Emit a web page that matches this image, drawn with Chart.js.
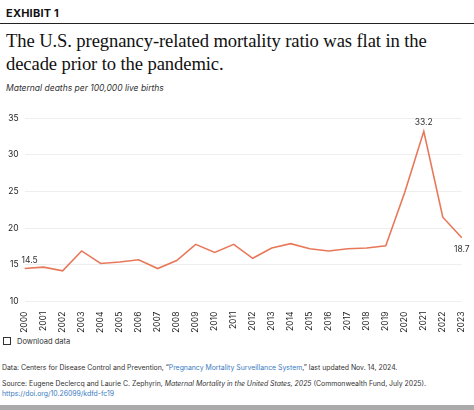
<!DOCTYPE html>
<html><head><meta charset="utf-8">
<script src="https://cdn.jsdelivr.net/npm/chart.js@4"></script>
<style>
body{margin:0;width:474px;height:410px;overflow:hidden;background:#fff;font-family:Inter,"Noto Sans",sans-serif;color:#111;position:relative}
.ex{position:absolute;left:6px;top:6px;font-size:11px;font-weight:700;letter-spacing:.2px}
.rule{position:absolute;left:0;width:474px;height:1px;background:#222}
.title{position:absolute;left:6px;top:29px;width:468px;font-family:"Liberation Serif","DejaVu Serif",serif;font-size:18.6px;line-height:23px;color:#111;letter-spacing:-0.1px}
.sub{position:absolute;left:6px;top:83px;font-size:8.5px;font-style:italic;color:#333}
.dl{position:absolute;left:3px;top:337px;font-size:7.5px;color:#333}
.dl span{display:inline-block;width:6px;height:6px;border:1px solid #333;margin-right:6px;vertical-align:-1px}
.fn{position:absolute;left:2px;font-size:6.9px;color:#333;line-height:10px}
.fn a{color:#3b7bbf;text-decoration:none}
.bar{position:absolute;left:0;top:405px;width:474px;height:5px;background:#aaa}
#c{position:absolute;left:0;top:107px}
</style></head><body>
<div class="ex">EXHIBIT 1</div>
<div class="rule" style="top:23px"></div>
<div class="title">The U.S. pregnancy-related mortality ratio was flat in the decade prior to the pandemic.</div>
<div class="sub">Maternal deaths per 100,000 live births</div>
<div class="dl"><span></span>Download data</div>
<div class="fn" style="top:363px">Data: Centers for Disease Control and Prevention, “<a>Pregnancy Mortality Surveillance System</a>,” last updated Nov. 14, 2024.</div>
<div class="fn" style="top:379px">Source: Eugene Declercq and Laurie C. Zephyrin, <i>Maternal Mortality in the United States, 2025</i> (Commonwealth Fund, July 2025).<br><a>https://doi.org/10.26099/kdfd-fc19</a></div>
<div class="bar"></div>
<canvas id="c" width="474" height="228"></canvas>
<script>
const years=["2000","2001","2002","2003","2004","2005","2006","2007","2008","2009","2010","2011","2012","2013","2014","2015","2016","2017","2018","2019","2020","2021","2022","2023"];
const ratio=[14.5,14.7,14.2,16.9,15.2,15.4,15.7,14.5,15.6,17.8,16.7,17.8,15.9,17.3,17.9,17.2,16.9,17.2,17.3,17.6,24.9,33.2,21.5,18.7];
const yTicks=[10,15,20,25,30,35];
const labelIdx=[0,21,23];
const lbl={id:'lbl',afterDatasetsDraw(ch){const ctx=ch.ctx;const m=ch.getDatasetMeta(0);ctx.save();ctx.font='8.5px Inter';ctx.fillStyle='#333';ctx.textAlign='center';
labelIdx.forEach(i=>{const p=m.data[i];let y=i===23?p.y+14:p.y-6;ctx.fillText(ratio[i].toFixed(1),p.x+(i===0?5:0),y);});ctx.restore();}};
new Chart(document.getElementById('c'),{type:'line',data:{labels:years,datasets:[{data:ratio,borderColor:'#e8785a',borderWidth:1.6,pointRadius:0,tension:0}]},
options:{responsive:false,animation:false,layout:{padding:{left:2,right:8,top:8}},plugins:{legend:{display:false},tooltip:{enabled:false}},
scales:{x:{offset:false,grid:{display:false},border:{display:false},ticks:{color:'#222',font:{size:8.5,family:'Inter'},maxRotation:90,minRotation:90,autoSkip:false,padding:2}},
y:{min:10,max:35,afterBuildTicks(a){a.ticks=yTicks.map(v=>({value:v}));},grid:{color:'#eee',drawTicks:false},border:{display:false},ticks:{color:'#222',font:{size:8.5,family:'Inter'},padding:6}}}},plugins:[lbl]});
</script></body></html>
